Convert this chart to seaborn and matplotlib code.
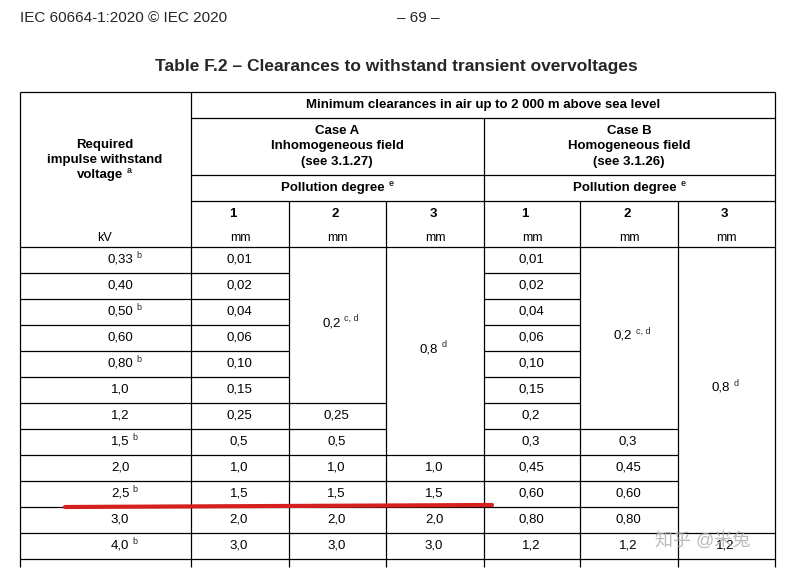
import matplotlib
matplotlib.use("Agg")
import matplotlib.pyplot as plt
import seaborn as sns

sns.set_theme(style="white")
plt.rcParams['font.family'] = ['Liberation Sans', 'Noto Sans CJK SC', 'DejaVu Sans']

voltages = ["0,33", "0,40", "0,50", "0,60", "0,80", "1,0", "1,2", "1,5", "2,0", "2,5", "3,0", "4,0"]
volt_sup = ["b", "", "b", "", "b", "", "", "b", "", "b", "", "b"]
a_pd1 = ["0,01", "0,02", "0,04", "0,06", "0,10", "0,15", "0,25", "0,5", "1,0", "1,5", "2,0", "3,0"]
a_pd2 = [None]*6 + ["0,25", "0,5", "1,0", "1,5", "2,0", "3,0"]
a_pd3 = [None]*8 + ["1,0", "1,5", "2,0", "3,0"]
b_pd1 = ["0,01", "0,02", "0,04", "0,06", "0,10", "0,15", "0,2", "0,3", "0,45", "0,60", "0,80", "1,2"]
b_pd2 = [None]*7 + ["0,3", "0,45", "0,60", "0,80", "1,2"]
b_pd3 = [None]*11 + ["1,2"]
merged = {1: ("0,2", "c, d"), 2: ("0,8", "d"), 4: ("0,2", "c, d"), 5: ("0,8", "d")}

fig = plt.figure(figsize=(8.02, 5.68), dpi=100)
ax = fig.add_axes([0, 0, 1, 1])
ax.set_xlim(0, 802); ax.set_ylim(568, 0); ax.axis("off")
renderer = fig.canvas.get_renderer()

xs = [20, 191, 289, 386, 484, 580, 678, 775]
y0, rh = 247, 26
lw = 0.9
FS = 9.5

def line(x1, y1, x2, y2):
    ax.plot([x1, x2], [y1, y2], color="black", lw=lw, solid_capstyle="butt")

def txt(x, y, s, sup="", bold=False, fs=FS):
    w = "bold" if bold else "normal"
    t = ax.text(x, y, s, ha="center", va="center", fontsize=fs, fontweight=w, color="black")
    if sup:
        half = t.get_window_extent(renderer).width / 2 * 72 / 100
        ax.annotate(sup, xy=(x, y), xytext=(half + 2.5, 3.5), textcoords="offset points",
                    fontsize=fs * 0.68, fontweight=w, va="center", ha="left")

# page header
ax.text(20, 18, "IEC 60664-1:2020 © IEC 2020", fontsize=11, va="center")
ax.text(397, 18, "– 69 –", fontsize=11, va="center")
ax.text(396, 66, "Table F.2 – Clearances to withstand transient overvoltages", fontsize=12.5,
        fontweight="bold", ha="center", va="center")

# header grid
top = 92
line(20, top, 775, top)
line(191, 118, 775, 118)
line(191, 175, 775, 175)
line(191, 201, 775, 201)
line(20, 247, 775, 247)
for x in [20, 191, 775]:
    line(x, top, x, 247)
line(484, 118, 484, 201)
for x in [289, 386, 580, 678]:
    line(x, 201, x, 247)
line(484, 201, 484, 247)

txt(105, 145, "Required", bold=True)
txt(105, 160, "impulse withstand", bold=True)
txt(100, 175, "voltage", "a", bold=True)
txt(105, 238, "kV", fs=9)
txt(483, 105, "Minimum clearances in air up to 2 000 m above sea level", bold=True)
for cx, case, fld, ref in [(337, "Case A", "Inhomogeneous field", "(see 3.1.27)"),
                           (629, "Case B", "Homogeneous field", "(see 3.1.26)")]:
    txt(cx, 131, case, bold=True)
    txt(cx, 146, fld, bold=True)
    txt(cx, 162, ref, bold=True)
    txt(cx - 4, 188, "Pollution degree", "e", bold=True)
for i in range(6):
    cx = (xs[i+1] + xs[i+2]) / 2 - 2
    txt(cx if i % 3 else cx - 5, 214, str(i % 3 + 1), bold=True)
    txt(cx + 2, 238, "mm", fs=9)

# data
n = len(voltages)
cols = [a_pd1, a_pd2, a_pd3, b_pd1, b_pd2, b_pd3]
for r in range(n):
    cy = y0 + rh*r + rh/2
    txt(xs[0] + 100, cy, voltages[r], volt_sup[r])
    for c, col in enumerate(cols):
        v = col[r]
        if v is not None:
            txt((xs[c+1] + xs[c+2]) / 2 - 1, cy, v)
# merged cells
for c, (v, sup) in merged.items():
    col = cols[c]
    k = sum(1 for v2 in col if v2 is None)
    cy = y0 + rh*k/2 - 2
    txt((xs[c+1] + xs[c+2]) / 2 - 6, cy, v, sup)

# grid for data
bottom = y0 + rh*n + 8
for x in xs:
    line(x, y0, x, bottom)
for r in range(1, n + 1):
    yy = y0 + rh*r
    if r == n:
        line(xs[0], yy, xs[-1], yy)
        continue
    line(xs[0], yy, xs[2], yy)
    for c, col in enumerate(cols):
        if c == 0 or col[r] is None:
            continue
        line(xs[c+1], yy, xs[c+2], yy)

# red marker
ax.plot([65, 492], [507, 505], color="#d62020", lw=3)
# watermark
ax.text(655, 541, "知乎 @米兔", fontsize=13, color="#b0b0b0", va="center", alpha=0.85)

fig.savefig("out.png", dpi=100)
